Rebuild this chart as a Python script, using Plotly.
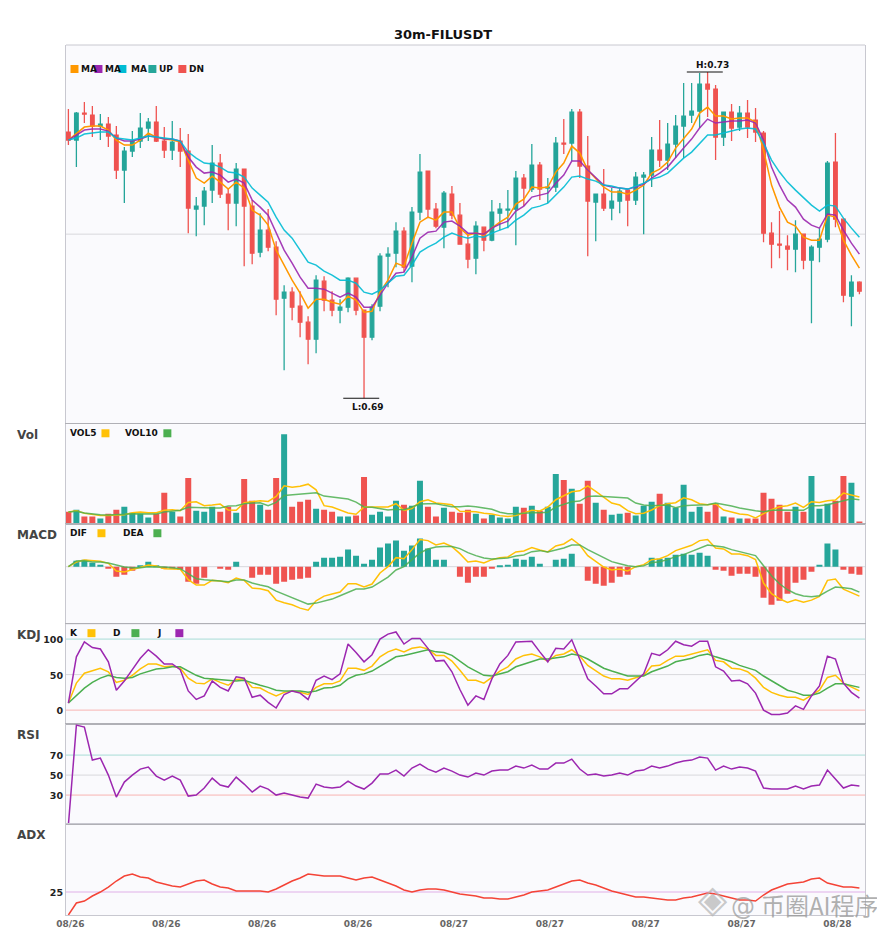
import numpy as np
import plotly.graph_objects as go
from plotly.subplots import make_subplots

# prices are stored as ticks of 0.000125 above/below 0.71
PRICE_BASE = 0.71
PRICE_TICK = 0.000125

open_ticks = [
    102, 94, 121, 119, 108, 110, 99, 64, 83, 93,
    106, 112, 93, 84, 93, 83, 25, 28, 44, 71,
    40, 31, 65, 28, -18, 4, -13, -64, -58, -72,
    -88, -105, -47, -66, -76, -73, -44, -76, -103, -72,
    -22, -19, 3, -32, 22, 63, 25, 7, 40, 19,
    -10, -24, 7, -6, 21, 24, 25, 56, 45, 69,
    46, 47, 91, 91, 122, 68, 32, 40, 26, 33,
    44, 34, 57, 59, 84, 74, 90, 108, 119, 123,
    150, 145, 97, 122, 107, 121, 114, 101, 1, -10,
    -12, -15, 0, -26, -13, -5, 72, 15, -62, -48,
]
close_ticks = [
    94, 121, 120, 108, 110, 98, 64, 83, 93, 106,
    112, 93, 84, 92, 83, 26, 28, 43, 71, 40,
    31, 65, 28, -19, 4, -13, -65, -58, -73, -88,
    -105, -46, -66, -76, -73, -44, -76, -103, -73, -22,
    -20, 3, -33, 22, 62, 25, 8, 41, 19, -10,
    -25, 8, -6, 22, 25, 25, 56, 46, 69, 45,
    47, 91, 90, 122, 68, 33, 40, 26, 33, 43,
    34, 57, 59, 84, 74, 90, 108, 118, 123, 150,
    145, 97, 122, 106, 121, 107, 102, 1, -10, -11,
    -15, 0, -26, -13, -5, 71, 15, -61, -48, -57,
]
high_ticks = [
    125, 122, 132, 128, 120, 117, 108, 87, 103, 121,
    116, 128, 107, 113, 106, 100, 37, 47, 89, 80,
    45, 71, 65, 34, 21, 25, -7, -51, -53, -57,
    -82, -41, -42, -57, -65, -43, -44, -76, -70, -19,
    -13, 12, 7, 27, 80, 63, 31, 43, 48, 31,
    0, 13, 7, 34, 31, 44, 63, 60, 90, 72,
    56, 97, 115, 125, 125, 98, 40, 65, 46, 46,
    44, 62, 62, 97, 114, 111, 119, 151, 151, 161,
    162, 149, 122, 130, 128, 134, 126, 103, 12, 23,
    -1, 14, 0, -11, 6, 73, 101, 15, -41, -47,
]
low_ticks = [
    89, 67, 111, 97, 94, 87, 55, 31, 77, 86,
    93, 92, 76, 74, 67, 1, -2, 9, 31, 36,
    4, 8, -32, -30, -23, -17, -81, -136, -86, -103,
    -130, -119, -77, -82, -89, -78, -81, -164, -106, -77,
    -53, -33, -38, -48, 14, 16, 6, -14, 15, -10,
    -34, -40, -17, -7, 4, 6, -11, 28, 42, 34,
    31, 42, 80, 73, 56, -22, -7, 23, 14, 21,
    8, 29, 0, 47, 67, 64, 76, 76, 111, 106,
    117, 74, 88, 93, 103, 96, 92, -8, -34, -24,
    -36, -38, -35, -89, -28, -8, 7, -68, -92, -60,
]
ma5_ticks = [
    94, 101, 107, 108, 108, 104, 94, 89, 89, 94,
    101, 97, 95, 94, 92, 74, 56, 51, 58, 52,
    45, 52, 46, 24, 19, 9, -16, -31, -46, -59,
    -74, -65, -65, -68, -70, -62, -66, -78, -77, -58,
    -46, -29, -32, -9, 12, 17, 14, 22, 22, 6,
    -1, 1, -1, 6, 12, 17, 30, 35, 47, 46,
    47, 62, 71, 88, 81, 64, 56, 47, 42, 42,
    40, 44, 49, 61, 65, 72, 86, 96, 105, 121,
    127, 118, 118, 115, 116, 116, 112, 84, 49, 27,
    12, 8, -3, -6, -6, 19, 17, -6, -21, -34,
]
ma10_ticks = [
    94, 99, 104, 105, 105, 103, 96, 93, 93, 95,
    98, 97, 95, 95, 93, 77, 67, 61, 62, 59,
    52, 55, 51, 34, 27, 19, 2, -16, -29, -43,
    -54, -54, -55, -59, -63, -59, -63, -73, -73, -61,
    -49, -39, -38, -23, -4, 2, 3, 12, 13, 8,
    1, 1, 0, 6, 10, 13, 23, 28, 37, 39,
    41, 51, 59, 73, 73, 64, 57, 49, 47, 46,
    45, 47, 50, 56, 61, 67, 77, 86, 95, 106,
    115, 111, 112, 113, 113, 114, 111, 94, 67, 49,
    34, 27, 15, 9, 6, 20, 19, 4, -9, -20,
]
ma20_ticks = [
    94, 96, 100, 101, 102, 102, 96, 95, 94, 96,
    98, 97, 96, 95, 93, 82, 76, 71, 70, 67,
    62, 61, 57, 46, 39, 32, 17, 4, -4, -16,
    -28, -31, -37, -41, -46, -46, -49, -58, -60, -56,
    -49, -42, -41, -31, -18, -13, -9, -3, 1, -2,
    -4, -2, -3, 1, 4, 7, 14, 19, 26, 28,
    31, 39, 47, 57, 58, 55, 53, 49, 48, 46,
    45, 48, 51, 55, 57, 61, 69, 76, 82, 91,
    99, 99, 101, 103, 105, 106, 105, 91, 74, 62,
    52, 44, 36, 29, 23, 29, 28, 16, 6, -3,
]
volume = [
    38, 44, 23, 23, 17, 32, 44, 53, 35, 32,
    20, 32, 95, 38, 23, 140, 41, 38, 53, 38,
    53, 35, 137, 71, 59, 44, 140, 272, 53, 68,
    74, 47, 44, 38, 23, 23, 26, 143, 29, 38,
    23, 71, 59, 56, 131, 53, 23, 50, 38, 35,
    44, 32, 17, 29, 20, 17, 53, 50, 56, 41,
    53, 152, 134, 107, 62, 131, 65, 44, 29, 32,
    35, 26, 56, 68, 92, 65, 50, 119, 38, 53,
    38, 62, 23, 20, 17, 17, 17, 95, 77, 59,
    38, 53, 38, 146, 47, 62, 71, 146, 125, 8,
]
vol5 = [
    37, 41, 33, 29, 26, 26, 27, 29, 35, 37,
    35, 35, 42, 44, 41, 66, 68, 56, 58, 61,
    43, 42, 65, 68, 71, 69, 84, 116, 112, 115,
    121, 104, 56, 52, 42, 34, 30, 52, 52, 52,
    52, 62, 42, 47, 68, 74, 64, 62, 59, 39,
    38, 38, 33, 31, 26, 23, 26, 35, 42, 40,
    52, 74, 86, 98, 101, 116, 99, 82, 64, 58,
    41, 32, 33, 43, 56, 62, 65, 80, 74, 62,
    59, 62, 43, 37, 31, 29, 19, 32, 44, 53,
    56, 64, 51, 68, 66, 71, 73, 94, 87, 82,
]
vol10 = [
    37, 39, 34, 31, 29, 28, 28, 30, 32, 32,
    31, 31, 37, 39, 42, 51, 50, 48, 49, 49,
    55, 56, 62, 64, 65, 56, 66, 87, 89, 92,
    95, 95, 85, 82, 79, 76, 67, 52, 51, 47,
    43, 45, 44, 52, 61, 62, 62, 57, 53, 53,
    55, 53, 48, 45, 36, 32, 32, 34, 35, 35,
    36, 52, 61, 68, 70, 84, 85, 84, 82, 80,
    79, 64, 58, 56, 56, 58, 50, 56, 57, 58,
    59, 64, 60, 55, 49, 44, 41, 38, 42, 43,
    43, 42, 42, 56, 56, 59, 66, 71, 77, 74,
]
macd_hist = [
    0, 18, 21, 12, 6, -6, -30, -24, -12, 3,
    15, 3, -6, -6, -9, -45, -51, -33, 0, -6,
    -9, 15, 0, -33, -24, -24, -51, -45, -39, -36,
    -33, 15, 27, 27, 30, 51, 33, 9, 21, 57,
    69, 78, 48, 63, 84, 54, 21, 21, 0, -30,
    -48, -30, -30, -6, 3, 6, 24, 21, 30, 9,
    0, 21, 24, 39, 0, -42, -51, -57, -48, -30,
    -24, 0, 0, 27, 24, 27, 36, 39, 36, 42,
    33, -9, -12, -27, -21, -21, -30, -93, -114, -102,
    -81, -48, -39, -15, 6, 69, 51, -9, -21, -24,
]
dif = [
    0, 14, 20, 18, 16, 10, -13, -16, -9, -3,
    5, 2, -6, -7, -8, -39, -55, -55, -41, -43,
    -48, -34, -41, -64, -66, -72, -100, -108, -114, -124,
    -130, -102, -88, -82, -76, -51, -51, -61, -52, -19,
    0, 27, 24, 51, 81, 78, 65, 71, 60, 39,
    14, 17, 11, 21, 27, 29, 44, 47, 57, 50,
    44, 62, 68, 83, 65, 33, 17, -1, -10, -7,
    -13, 0, 6, 21, 24, 33, 48, 56, 64, 78,
    81, 56, 53, 38, 38, 33, 21, -49, -81, -96,
    -107, -99, -106, -100, -89, -41, -37, -67, -78, -88,
]
dea = [
    0, 17, 18, 14, 14, 11, 5, -1, -3, -3,
    0, 0, -1, -3, -6, -21, -36, -39, -40, -43,
    -45, -40, -40, -49, -55, -60, -73, -83, -92, -101,
    -112, -109, -103, -97, -87, -76, -67, -67, -61, -46,
    -31, -10, 0, 21, 41, 53, 59, 60, 60, 54,
    42, 33, 26, 23, 24, 26, 32, 35, 45, 48,
    44, 50, 56, 65, 65, 51, 39, 27, 15, 9,
    3, 0, 3, 12, 15, 21, 30, 36, 45, 54,
    65, 62, 59, 51, 45, 39, 33, 3, -27, -51,
    -69, -81, -88, -90, -87, -73, -61, -63, -66, -76,
]
kdj_k = [
    10, 38, 52, 56, 59, 54, 39, 42, 49, 58,
    65, 65, 61, 62, 59, 45, 38, 37, 44, 39,
    35, 43, 44, 32, 31, 25, 20, 25, 27, 25,
    22, 32, 37, 37, 41, 59, 59, 56, 62, 75,
    82, 86, 82, 87, 89, 86, 77, 77, 69, 56,
    42, 42, 38, 46, 55, 61, 72, 77, 79, 75,
    69, 77, 79, 85, 76, 63, 56, 48, 44, 44,
    42, 46, 49, 62, 63, 70, 76, 76, 79, 83,
    85, 70, 68, 59, 58, 54, 45, 32, 25, 21,
    18, 18, 14, 21, 28, 46, 49, 38, 32, 27,
]
kdj_d = [
    10, 20, 31, 39, 45, 49, 46, 45, 46, 51,
    55, 58, 59, 61, 61, 55, 49, 45, 44, 42,
    41, 41, 42, 38, 35, 32, 28, 27, 27, 27,
    25, 27, 31, 32, 35, 44, 49, 51, 55, 62,
    68, 75, 77, 80, 83, 85, 82, 81, 77, 69,
    61, 55, 49, 48, 51, 54, 61, 65, 69, 72,
    72, 73, 75, 79, 77, 72, 66, 59, 55, 52,
    48, 48, 48, 54, 58, 62, 68, 70, 73, 77,
    79, 75, 72, 68, 63, 59, 56, 48, 41, 34,
    28, 25, 21, 21, 24, 31, 37, 37, 35, 32,
]
kdj_j = [
    10, 75, 96, 88, 86, 68, 28, 41, 57, 73,
    85, 76, 65, 65, 57, 27, 15, 20, 41, 32,
    27, 47, 45, 18, 21, 11, 3, 22, 27, 24,
    15, 42, 48, 43, 51, 93, 81, 68, 78, 100,
    107, 110, 93, 101, 101, 87, 69, 70, 54, 29,
    7, 20, 15, 44, 65, 77, 96, 97, 97, 82,
    68, 87, 86, 99, 72, 44, 34, 23, 23, 30,
    30, 41, 51, 80, 77, 85, 97, 92, 90, 97,
    97, 61, 55, 41, 42, 37, 24, 0, -6, -6,
    -4, 6, 1, 20, 34, 76, 72, 38, 25, 17,
]
rsi = [
    0, 100, 98, 65, 67, 50, 28, 43, 50, 56,
    58, 49, 45, 49, 45, 29, 30, 37, 47, 40,
    38, 48, 41, 33, 39, 36, 30, 32, 30, 28,
    27, 41, 38, 37, 38, 44, 39, 36, 42, 51,
    51, 55, 49, 57, 61, 56, 53, 57, 54, 50,
    48, 52, 50, 54, 55, 55, 59, 57, 60, 56,
    56, 62, 62, 66, 56, 50, 51, 49, 50, 52,
    50, 54, 55, 59, 57, 59, 62, 64, 65, 68,
    67, 55, 59, 56, 58, 57, 54, 37, 36, 36,
    36, 39, 36, 39, 40, 55, 46, 37, 40, 39,
]
adx = [
    13.5, 19.5, 20.5, 23, 25, 27.5, 30.5, 33, 34, 32.5,
    32, 30, 29, 28, 27.5, 29, 30.5, 31, 29, 27.5,
    27, 25.5, 25.5, 25.5, 25.5, 25, 26.5, 28.5, 30.5, 32,
    34, 33.5, 33, 33, 33, 32, 31, 32, 32.5, 31,
    29.5, 28, 26, 25, 26, 26.5, 26.5, 26, 25, 24,
    23.5, 23, 22, 22, 21.5, 21.5, 22.5, 23.5, 25, 25.5,
    26, 27.5, 29, 30.5, 31, 29.5, 28.5, 27, 25.5, 24.5,
    23.5, 22.5, 22.5, 22, 21.5, 21, 21, 22, 22.5, 23.5,
    24.5, 24, 23, 22, 21, 21, 20.5, 23.5, 26, 27.5,
    29, 29.5, 30, 31.5, 32, 29.5, 28.5, 27.5, 27.5, 27,
]
date_ticks = [0, 12, 24, 36, 48, 60, 72, 84, 96]
date_labels = ["08/26", "08/26", "08/26", "08/26", "08/27", "08/27", "08/27", "08/27", "08/28"]

UP = "#26a69a"
DN = "#ef5350"
FONT = "DejaVu Sans"
X_RANGE = [-0.3, 99.7]


def to_price(ticks):
    return PRICE_BASE + PRICE_TICK * np.array(ticks)


def paper_x(px):
    return (px - 65.5) / 800


def paper_y(py):
    return (915.5 - py) / 870.5


x = list(range(len(close_ticks)))
opens, closes = to_price(open_ticks), to_price(close_ticks)
highs, lows = to_price(high_ticks), to_price(low_ticks)

fig = make_subplots(
    rows=6,
    cols=1,
    shared_xaxes=True,
    vertical_spacing=0,
    row_heights=[379.5, 100, 100, 100, 100, 91],
)


def add_line(values, color, row, width=1.5, opacity=1.0):
    fig.add_trace(
        go.Scatter(
            x=x,
            y=values,
            mode="lines",
            line=dict(color=color, width=width),
            opacity=opacity,
            hoverinfo="skip",
            showlegend=False,
        ),
        row=row,
        col=1,
    )


# main pane
fig.add_trace(
    go.Candlestick(
        x=x,
        open=opens,
        high=highs,
        low=lows,
        close=closes,
        increasing=dict(line=dict(color=UP, width=1.3), fillcolor=UP),
        decreasing=dict(line=dict(color=DN, width=1.3), fillcolor=DN),
        whiskerwidth=0,
        hoverinfo="skip",
        showlegend=False,
    ),
    row=1,
    col=1,
)
add_line(to_price(ma5_ticks), "#ff9800", 1)
add_line(to_price(ma10_ticks), "#9c27b0", 1, opacity=0.9)
add_line(to_price(ma20_ticks), "#00bcd4", 1, opacity=0.9)

# volume pane
vol_colors = [UP if c >= o else DN for o, c in zip(open_ticks, close_ticks)]
fig.add_trace(
    go.Bar(x=x, y=volume, marker=dict(color=vol_colors, line_width=0), hoverinfo="skip", showlegend=False),
    row=2,
    col=1,
)
add_line(vol5, "#ffc107", 2)
add_line(vol10, "#4caf50", 2, opacity=0.85)

# macd pane
hist_colors = [UP if v >= 0 else DN for v in macd_hist]
fig.add_trace(
    go.Bar(x=x, y=macd_hist, marker=dict(color=hist_colors, line_width=0), hoverinfo="skip", showlegend=False),
    row=3,
    col=1,
)
add_line(dif, "#ffc107", 3)
add_line(dea, "#4caf50", 3, opacity=0.85)

# kdj pane
add_line(kdj_k, "#ffc107", 4)
add_line(kdj_d, "#4caf50", 4)
add_line(kdj_j, "#9c27b0", 4)

# rsi pane
add_line(rsi, "#9c27b0", 5)

# adx pane
add_line(adx, "#f44336", 6)

# reference levels
GREY_LEVEL = "#d8d8dc"
TEAL_LEVEL = "#a8dcd6"
RED_LEVEL = "#f8b4b2"
PURPLE_LEVEL = "#e0b0e8"
for row, level, color in [
    (1, PRICE_BASE, GREY_LEVEL),
    (3, 0, GREY_LEVEL),
    (4, 100, TEAL_LEVEL),
    (4, 50, GREY_LEVEL),
    (4, 0, RED_LEVEL),
    (5, 70, TEAL_LEVEL),
    (5, 50, GREY_LEVEL),
    (5, 30, RED_LEVEL),
    (6, 25, PURPLE_LEVEL),
]:
    fig.add_shape(
        type="line",
        x0=X_RANGE[0],
        x1=X_RANGE[1],
        y0=level,
        y1=level,
        line=dict(color=color, width=1),
        layer="below",
        row=row,
        col=1,
    )

fig.update_xaxes(
    range=X_RANGE,
    rangeslider_visible=False,
    showgrid=False,
    zeroline=False,
    showline=True,
    mirror=True,
    linecolor="#b0b0b6",
    ticks="",
)
fig.update_yaxes(
    showgrid=False,
    zeroline=False,
    showline=True,
    mirror=True,
    linecolor="#c8c8d0",
    showticklabels=False,
    ticks="",
)
fig.update_xaxes(showline=False, row=1, col=1)
fig.update_xaxes(
    tickvals=date_ticks,
    ticktext=date_labels,
    showticklabels=True,
    ticklabelshift=2,
    tickfont=dict(family=FONT, size=9, color="#666666", weight="bold"),
    linecolor="#c8c8d0",
    row=6,
    col=1,
)

tick_font = dict(family=FONT, size=9.5, color="#222222", weight="bold")
fig.update_yaxes(range=[0.68625, 0.733625], row=1, col=1)
fig.update_yaxes(range=[0, 302], row=2, col=1)
fig.update_yaxes(range=[-172, 127], row=3, col=1)
fig.update_yaxes(
    range=[-19.7, 121],
    showticklabels=True,
    tickvals=[0, 50, 100],
    tickfont=tick_font,
    ticklabelshift=1,
    row=4,
    col=1,
)
fig.update_yaxes(
    range=[1, 101],
    showticklabels=True,
    tickvals=[30, 50, 70],
    tickfont=tick_font,
    ticklabelshift=1,
    row=5,
    col=1,
)
fig.update_yaxes(
    range=[13.5, 59],
    showticklabels=True,
    tickvals=[25],
    tickfont=tick_font,
    ticklabelshift=1,
    row=6,
    col=1,
)

# high / low markers
hi_i = int(np.argmax(highs))
lo_i = int(np.argmin(lows))
fig.add_shape(
    type="line", x0=hi_i - 2.6, x1=hi_i + 1.9, y0=highs[hi_i], y1=highs[hi_i],
    line=dict(color="#111111", width=1.2), row=1, col=1,
)
fig.add_shape(
    type="line", x0=lo_i - 2.6, x1=lo_i + 1.9, y0=lows[lo_i], y1=lows[lo_i],
    line=dict(color="#111111", width=1.2), row=1, col=1,
)
text_font = dict(family=FONT, size=9, color="#111111", weight="bold")
fig.add_annotation(
    x=hi_i + 0.6, y=highs[hi_i], yshift=7, text=f"H:{highs[hi_i]:.2f}", showarrow=False,
    font=text_font, row=1, col=1,
)
fig.add_annotation(
    x=lo_i + 0.5, y=lows[lo_i], yshift=-9, text=f"L:{lows[lo_i]:.2f}", showarrow=False,
    font=text_font, row=1, col=1,
)

# pane names
for name, py in [("Vol", 435.5), ("MACD", 535.5), ("KDJ", 635.5), ("RSI", 735.5), ("ADX", 835.5)]:
    fig.add_annotation(
        xref="paper", yref="paper", x=paper_x(14), y=paper_y(py), text=name, showarrow=False,
        xanchor="left", yanchor="middle",
        font=dict(family=FONT, size=12, color="#444444", weight="bold"),
    )


# legend chips with their labels, positions are in page pixels
def add_key(label, text_x, chip_x, color, py):
    fig.add_annotation(
        xref="paper", yref="paper", x=paper_x(text_x), y=paper_y(py), text=label, showarrow=False,
        xanchor="left", yanchor="middle", xshift=-2, font=text_font,
    )
    fig.add_shape(
        type="rect", xref="paper", yref="paper",
        x0=paper_x(chip_x), x1=paper_x(chip_x + 8), y0=paper_y(py - 4), y1=paper_y(py + 4),
        fillcolor=color, line_width=0,
    )


for label, text_x, chip_x, color in [
    ("MA", 81, 70, "#ff9800"),
    ("MA", 105, 94, "#9c27b0"),
    ("MA", 131, 118, "#00bcd4"),
    ("UP", 159, 148, UP),
    ("DN", 189, 178, DN),
]:
    add_key(label, text_x, chip_x, color, 69)
add_key("VOL5", 70, 101, "#ffc107", 433.5)
add_key("VOL10", 125, 163, "#4caf50", 433.5)
add_key("DIF", 70, 97, "#ffc107", 533.5)
add_key("DEA", 123, 153, "#4caf50", 533.5)
add_key("K", 70, 87, "#ffc107", 633.5)
add_key("D", 113, 131, "#4caf50", 633.5)
add_key("J", 157, 175, "#9c27b0", 633.5)

# watermark
fig.add_annotation(
    xref="paper", yref="paper", x=paper_x(713), y=paper_y(924), text="◈", showarrow=False,
    xanchor="center", font=dict(family=FONT, size=38, color="rgba(180,180,180,0.7)"),
)
fig.add_annotation(
    xref="paper", yref="paper", x=paper_x(743), y=paper_y(924), text="@", showarrow=False,
    xanchor="center", font=dict(family=FONT, size=24, color="rgba(150,150,150,0.7)"),
)
fig.add_annotation(
    xref="paper", yref="paper", x=paper_x(759), y=paper_y(925), text="币圈AI程序", showarrow=False,
    xanchor="left", font=dict(family="Noto Sans CJK SC", size=24, color="rgba(150,150,150,0.75)"),
)

fig.update_layout(
    width=877,
    height=934,
    margin=dict(l=57.5, r=19.5, t=37, b=26.5),
    paper_bgcolor="white",
    plot_bgcolor="#fafafd",
    barmode="overlay",
    bargap=0.25,
    boxgap=0.36,
    showlegend=False,
    title=dict(
        text="30m-FILUSDT",
        x=(443 - 8) / 877,
        xanchor="center",
        y=1 - 26 / 934,
        yanchor="middle",
        font=dict(family=FONT, size=13, color="#111111", weight="bold"),
    ),
    shapes=list(fig.layout.shapes)
    + [
        dict(
            type="line", xref="paper", yref="paper", x0=0, x1=1, y0=1, y1=1,
            line=dict(color="#c8c8d0", width=1),
        )
    ],
)

fig.write_html("out.html")
